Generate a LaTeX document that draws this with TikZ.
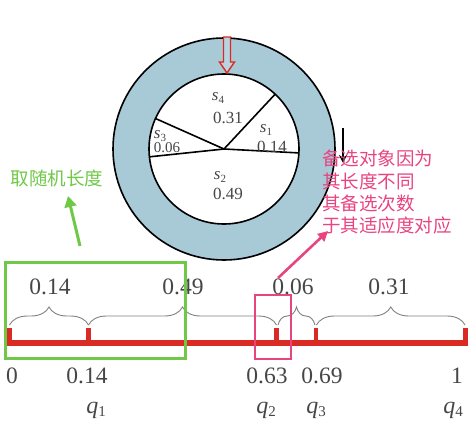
\documentclass[tikz,border=0pt]{standalone}
\usepackage{fontspec}
\setmainfont{Liberation Serif}
\newfontfamily\cjk{Noto Sans CJK SC}
\usetikzlibrary{decorations.pathreplacing,arrows.meta,calc}
\definecolor{ringblue}{RGB}{168,201,214}
\definecolor{txtgray}{RGB}{70,70,70}
\definecolor{axred}{RGB}{218,42,36}
\definecolor{mygreen}{RGB}{112,200,72}
\definecolor{mypink}{RGB}{232,68,128}
\newcommand\slab[1]{{\itshape s}\raisebox{-0.35ex}{\fontsize{11}{11}\selectfont #1}}
\newcommand\qlab[1]{{\itshape q}\raisebox{-0.35ex}{\fontsize{15}{15}\selectfont #1}}
\begin{document}
\begin{tikzpicture}[x=1pt,y=-1pt,
  pielab/.style={text=txtgray,inner sep=0pt,font=\fontsize{17}{17}\selectfont},
  toplab/.style={text=txtgray,inner sep=0pt,font=\fontsize{23.5}{23.5}\selectfont},
  qtext/.style={text=txtgray,inner sep=0pt,font=\fontsize{24}{24}\selectfont},
  blk/.style={line width=1.6pt,black},
  tick/.style={axred,line width=4.5pt},
  bracestyle/.style={decorate,decoration={brace,amplitude=18pt},draw=gray,line width=0.9pt},
  cjkpink/.style={text=mypink,inner sep=0pt,align=left,anchor=north west,font=\cjk\fontsize{18.5}{22.3}\selectfont},
]
\useasboundingbox (0,0) rectangle (474,431);

% ---- wheel ----
\coordinate (C) at (224,149);
\fill[ringblue,even odd rule] (C) circle[radius=111pt] (C) circle[radius=75pt];
\draw[blk] (C) circle[radius=111pt];
\draw[blk] (C) circle[radius=75pt];
\coordinate (e1) at ($(C)+(-3:75pt)$);
\coordinate (e2) at ($(C)+(47:75pt)$);
\coordinate (e3) at ($(C)+(156:75pt)$);
\coordinate (e4) at ($(C)+(186:75pt)$);
\draw[blk] (e4) -- (C) -- (e1);
\draw[blk] (C) -- (e2);
\draw[blk] (C) -- (e3);

\node[pielab] (s4) at (218,98) {\slab{4}};
\node[pielab,fill=white,inner sep=1.5pt] (v4) at (228,118) {0.31};
\node[pielab] (s1) at (266,130) {\slab{1}};
\node[pielab] (v1) at (272,147) {0.14};
\node[pielab] (s2) at (220,177) {\slab{2}};
\node[pielab] (v2) at (228,194) {0.49};
\node[pielab] (s3) at (160,136) {\slab{3}};
\node[pielab,font=\fontsize{15}{15}\selectfont] (v3) at (167,148) {0.06};

% red hollow pointer at top
\draw[axred,line width=1.4pt,fill=ringblue!80!white]
  (223.5,37) -- (230.5,37) -- (230.5,62) -- (234.5,62) -- (227,73) -- (219.5,62) -- (223.5,62) -- cycle;

% black arrow at right
\coordinate (ba1) at (343,128);
\coordinate (ba2) at (343,163);
\draw[black,line width=1.8pt,-{Stealth[length=8pt,width=8pt]}] (ba1) -- (ba2);

% ---- pink annotation ----
\node[cjkpink] (ptext) at (322,150) {备选对象因为\\其长度不同\\其备选次数\\于其适应度对应};

% ---- green annotation ----
\node[text=mygreen,inner sep=0pt,font=\cjk\fontsize{18.5}{18.5}\selectfont] (gtext) at (57,178) {取随机长度};
\coordinate (ga1) at (80,246);
\coordinate (ga2) at (68,196);
\draw[mygreen,line width=3pt,-{Triangle[length=11pt,width=12pt]}] (ga1) -- (ga2);

% ---- axis ----
\coordinate (t0) at (9.5,343);
\coordinate (t1) at (88.5,343);
\coordinate (t2) at (276.5,343);
\coordinate (t3) at (316,343);
\coordinate (t4) at (465.5,343);
\coordinate (u0) at (9.5,328);
\coordinate (u1) at (88.5,328);
\coordinate (u2) at (276.5,328);
\coordinate (u3) at (316,328);
\coordinate (u4) at (465.5,328);
\draw[axred,line width=6pt] (7,343) -- (468,343);
\foreach \i in {0,...,4} \draw[tick] (t\i) -- (u\i);

\draw[bracestyle] (9.5,325) -- (88.5,325);
\draw[bracestyle] (88.5,325) -- (276.5,325);
\draw[bracestyle] (278,325) -- (315,325);
\draw[bracestyle] (316.5,325) -- (465,325);

\node[toplab] (b1) at (50,287) {0.14};
\node[toplab] (b2) at (183,287) {0.49};
\node[toplab] (b3) at (293,287) {0.06};
\node[toplab] (b4) at (389,287) {0.31};

\node[toplab] (n0) at (12,376) {0};
\node[toplab] (n1) at (87,376) {0.14};
\node[toplab] (n2) at (267,376) {0.63};
\node[toplab] (n3) at (322,376) {0.69};
\node[toplab] (n4) at (457,376) {1};

\node[qtext] (q1) at (96,410) {\qlab{1}};
\node[qtext] (q2) at (266,410) {\qlab{2}};
\node[qtext] (q3) at (316,410) {\qlab{3}};
\node[qtext] (q4) at (453,410) {\qlab{4}};

% boxes
\draw[mygreen,line width=3pt] (5,262) rectangle (185,358);
\draw[mypink,line width=2.6pt] (255,295) rectangle (291,359);

% pink arrow
\coordinate (pa1) at (278,278);
\coordinate (pa2) at (328,231);
\draw[mypink,line width=2.6pt,-{Triangle[length=10pt,width=10pt]}] (pa1) -- (pa2);
\end{tikzpicture}
\end{document}
